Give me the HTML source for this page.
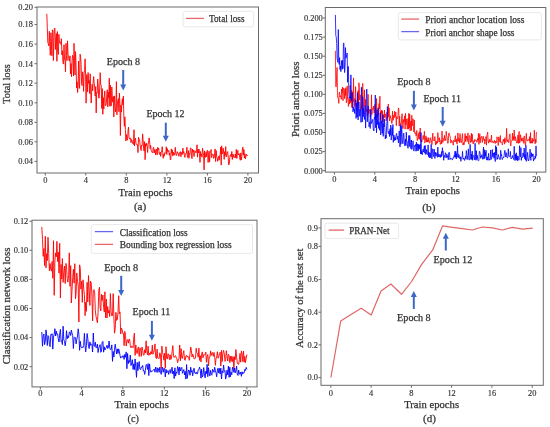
<!DOCTYPE html>
<html><head><meta charset="utf-8"><title>Training curves</title>
<style>
html,body{margin:0;padding:0;background:#fff;}
body{width:550px;height:427px;overflow:hidden;}
svg{display:block;}
svg text{font-family:"Liberation Serif", "DejaVu Serif", serif;fill:#333;stroke:#333;stroke-width:0.15px;}
svg text.b{stroke-width:0.25px;}
</style></head>
<body>
<svg width="550" height="427" viewBox="0 0 550 427">
<rect width="550" height="427" fill="#fff"/>
<rect x="37.0" y="7.0" width="221.5" height="166.0" fill="none" stroke="#6a6a6a" stroke-width="1.0"/>
<path d="M46.8 13.8L47.3 27.6L47.8 42.5L48.3 43.8L48.8 45.8L49.3 31.3L49.8 44.8L50.3 55.3L50.9 32.8L51.4 41.9L51.9 55.8L52.4 29.8L52.9 30.8L53.4 60.5L53.9 39.0L54.4 28.5L54.9 28.0L55.4 49.5L55.9 37.9L56.4 33.6L56.9 61.3L57.4 31.6L57.9 51.7L58.4 54.4L58.9 34.3L59.4 42.8L59.9 41.8L60.4 43.8L60.9 44.4L61.4 38.7L61.9 54.9L62.4 50.7L62.9 62.3L63.5 64.1L64.0 44.7L64.5 59.6L65.0 59.9L65.5 71.9L66.0 43.3L66.5 55.6L67.0 60.7L67.5 40.8L68.0 54.2L68.5 55.6L69.0 60.6L69.5 60.9L70.0 55.8L70.5 74.0L71.0 63.6L71.5 76.7L72.0 61.7L72.5 55.3L73.0 56.8L73.5 76.1L74.0 43.4L74.5 60.3L75.0 75.0L75.5 51.6L76.0 62.4L76.6 88.0L77.1 81.9L77.6 92.5L78.1 85.9L78.6 61.0L79.1 83.4L79.6 88.4L80.1 54.2L80.6 56.9L81.1 64.5L81.6 83.3L82.1 85.6L82.6 71.8L83.1 76.4L83.6 91.4L84.1 73.4L84.6 69.5L85.1 58.8L85.6 75.8L86.1 103.2L86.6 74.5L87.1 75.3L87.6 91.9L88.1 72.5L88.6 83.4L89.2 80.5L89.7 93.7L90.2 73.8L90.7 91.0L91.2 103.0L91.7 90.9L92.2 84.2L92.7 90.8L93.2 81.7L93.7 76.6L94.2 83.3L94.7 87.9L95.2 96.0L95.7 86.5L96.2 112.9L96.7 92.5L97.2 93.1L97.7 79.0L98.2 85.0L98.7 98.1L99.2 97.9L99.7 87.9L100.2 72.6L100.7 84.8L101.2 85.1L101.8 108.5L102.3 88.6L102.8 114.3L103.3 97.7L103.8 109.0L104.3 96.2L104.8 90.9L105.3 105.5L105.8 105.6L106.3 103.2L106.8 94.6L107.3 89.7L107.8 106.8L108.3 92.2L108.8 97.9L109.3 78.2L109.8 106.2L110.3 85.2L110.8 106.1L111.3 105.8L111.8 87.0L112.3 96.7L112.8 102.2L113.3 96.3L113.8 117.0L114.4 95.9L114.9 104.0L115.4 111.9L115.9 106.8L116.4 81.6L116.9 114.8L117.4 103.0L117.9 100.6L118.4 98.6L118.9 111.7L119.4 93.1L119.9 102.8L120.4 135.5L120.9 105.1L121.4 112.1L121.9 102.6L122.4 98.6L122.9 105.0L123.4 96.0L123.9 118.5L124.4 126.4L124.9 116.8L125.4 129.4L125.9 141.0L126.4 134.6L126.9 139.5L127.5 140.2L128.0 130.8L128.5 127.1L129.0 137.0L129.5 138.9L130.0 138.7L130.5 137.8L131.0 142.7L131.5 139.5L132.0 139.8L132.5 143.2L133.0 144.0L133.5 144.5L134.0 129.7L134.5 146.0L135.0 140.4L135.5 138.2L136.0 143.2L136.5 144.4L137.0 145.1L137.5 144.7L138.0 152.6L138.5 137.2L139.0 139.3L139.5 139.6L140.1 145.1L140.6 148.0L141.1 150.6L141.6 145.0L142.1 145.5L142.6 133.9L143.1 139.6L143.6 148.0L144.1 151.1L144.6 141.6L145.1 159.7L145.6 143.8L146.1 146.0L146.6 143.1L147.1 145.4L147.6 152.5L148.1 144.7L148.6 142.0L149.1 137.9L149.6 140.9L150.1 148.7L150.6 145.3L151.1 149.9L151.6 151.5L152.1 152.5L152.7 152.7L153.2 147.7L153.7 147.2L154.2 153.0L154.7 149.6L155.2 149.6L155.7 154.9L156.2 150.0L156.7 149.0L157.2 154.9L157.7 147.4L158.2 149.7L158.7 148.1L159.2 153.4L159.7 154.6L160.2 152.1L160.7 156.4L161.2 151.8L161.7 152.0L162.2 146.7L162.7 152.5L163.2 158.3L163.7 154.0L164.2 156.3L164.7 152.6L165.3 153.3L165.8 152.9L166.3 146.8L166.8 154.5L167.3 148.5L167.8 151.6L168.3 151.7L168.8 150.4L169.3 155.2L169.8 152.9L170.3 159.9L170.8 159.2L171.3 148.9L171.8 153.2L172.3 149.9L172.8 156.1L173.3 152.2L173.8 155.0L174.3 155.1L174.8 152.4L175.3 147.3L175.8 153.9L176.3 155.7L176.8 154.0L177.3 151.7L177.8 153.5L178.4 153.3L178.9 156.3L179.4 153.1L179.9 152.1L180.4 151.6L180.9 156.8L181.4 152.4L181.9 154.3L182.4 154.4L182.9 148.1L183.4 153.2L183.9 151.6L184.4 155.7L184.9 157.4L185.4 153.7L185.9 153.6L186.4 153.6L186.9 147.2L187.4 157.4L187.9 157.1L188.4 150.6L188.9 158.3L189.4 153.6L189.9 154.4L190.4 148.2L191.0 147.9L191.5 156.2L192.0 158.7L192.5 149.1L193.0 151.8L193.5 150.1L194.0 156.6L194.5 153.4L195.0 150.6L195.5 151.9L196.0 152.9L196.5 151.5L197.0 144.8L197.5 157.1L198.0 149.4L198.5 153.0L199.0 149.1L199.5 153.8L200.0 162.4L200.5 151.5L201.0 155.8L201.5 154.0L202.0 157.2L202.5 148.2L203.0 151.6L203.6 155.3L204.1 169.9L204.6 150.8L205.1 157.7L205.6 155.3L206.1 152.3L206.6 156.8L207.1 150.5L207.6 150.3L208.1 162.5L208.6 154.5L209.1 151.1L209.6 162.1L210.1 152.6L210.6 152.4L211.1 149.4L211.6 157.6L212.1 155.0L212.6 154.1L213.1 154.2L213.6 158.4L214.1 157.9L214.6 153.5L215.1 148.9L215.6 161.5L216.2 150.6L216.7 156.8L217.2 157.9L217.7 161.3L218.2 158.2L218.7 156.3L219.2 160.2L219.7 155.3L220.2 154.5L220.7 147.0L221.2 165.1L221.7 145.8L222.2 153.9L222.7 153.0L223.2 148.2L223.7 152.9L224.2 159.4L224.7 151.6L225.2 155.3L225.7 146.6L226.2 157.0L226.7 154.8L227.2 152.8L227.7 151.6L228.2 157.0L228.7 165.0L229.3 163.5L229.8 157.6L230.3 154.7L230.8 154.7L231.3 156.7L231.8 151.5L232.3 159.5L232.8 154.2L233.3 154.2L233.8 157.5L234.3 156.8L234.8 157.5L235.3 154.0L235.8 158.0L236.3 149.4L236.8 158.5L237.3 153.8L237.8 150.3L238.3 155.0L238.8 153.9L239.3 153.7L239.8 158.2L240.3 160.3L240.8 152.9L241.3 160.0L241.9 156.5L242.4 148.9L242.9 147.1L243.4 155.1L243.9 149.5L244.4 158.0L244.9 153.7L245.4 159.0L245.9 156.0L246.4 154.3L246.9 155.7L247.4 155.5L247.9 155.4" fill="none" stroke="#ff0000" stroke-width="0.90" stroke-linejoin="round" stroke-opacity="1.00"/>
<line x1="34.5" y1="161.4" x2="37.0" y2="161.4" stroke="#6a6a6a" stroke-width="1"/>
<text x="32.9" y="164.2" text-anchor="end" font-size="8.4">0.04</text>
<line x1="34.5" y1="141.8" x2="37.0" y2="141.8" stroke="#6a6a6a" stroke-width="1"/>
<text x="32.9" y="144.6" text-anchor="end" font-size="8.4">0.06</text>
<line x1="34.5" y1="122.3" x2="37.0" y2="122.3" stroke="#6a6a6a" stroke-width="1"/>
<text x="32.9" y="125.1" text-anchor="end" font-size="8.4">0.08</text>
<line x1="34.5" y1="102.8" x2="37.0" y2="102.8" stroke="#6a6a6a" stroke-width="1"/>
<text x="32.9" y="105.5" text-anchor="end" font-size="8.4">0.10</text>
<line x1="34.5" y1="83.2" x2="37.0" y2="83.2" stroke="#6a6a6a" stroke-width="1"/>
<text x="32.9" y="86.0" text-anchor="end" font-size="8.4">0.12</text>
<line x1="34.5" y1="63.7" x2="37.0" y2="63.7" stroke="#6a6a6a" stroke-width="1"/>
<text x="32.9" y="66.5" text-anchor="end" font-size="8.4">0.14</text>
<line x1="34.5" y1="44.1" x2="37.0" y2="44.1" stroke="#6a6a6a" stroke-width="1"/>
<text x="32.9" y="46.9" text-anchor="end" font-size="8.4">0.16</text>
<line x1="34.5" y1="24.6" x2="37.0" y2="24.6" stroke="#6a6a6a" stroke-width="1"/>
<text x="32.9" y="27.4" text-anchor="end" font-size="8.4">0.18</text>
<line x1="34.5" y1="7.3" x2="37.0" y2="7.3" stroke="#6a6a6a" stroke-width="1"/>
<text x="32.9" y="10.1" text-anchor="end" font-size="8.4">0.20</text>
<line x1="45.3" y1="173.0" x2="45.3" y2="175.5" stroke="#6a6a6a" stroke-width="1"/>
<text x="45.3" y="182.7" text-anchor="middle" font-size="8.4">0</text>
<line x1="85.8" y1="173.0" x2="85.8" y2="175.5" stroke="#6a6a6a" stroke-width="1"/>
<text x="85.8" y="182.7" text-anchor="middle" font-size="8.4">4</text>
<line x1="126.3" y1="173.0" x2="126.3" y2="175.5" stroke="#6a6a6a" stroke-width="1"/>
<text x="126.3" y="182.7" text-anchor="middle" font-size="8.4">8</text>
<line x1="166.9" y1="173.0" x2="166.9" y2="175.5" stroke="#6a6a6a" stroke-width="1"/>
<text x="166.9" y="182.7" text-anchor="middle" font-size="8.4">12</text>
<line x1="207.4" y1="173.0" x2="207.4" y2="175.5" stroke="#6a6a6a" stroke-width="1"/>
<text x="207.4" y="182.7" text-anchor="middle" font-size="8.4">16</text>
<line x1="247.9" y1="173.0" x2="247.9" y2="175.5" stroke="#6a6a6a" stroke-width="1"/>
<text x="247.9" y="182.7" text-anchor="middle" font-size="8.4">20</text>
<rect x="183.1" y="11.3" width="70.5" height="15.6" rx="2" fill="#fff" fill-opacity="0.8" stroke="#e2e2e2" stroke-width="0.8"/>
<line x1="186.0" y1="18.4" x2="204.0" y2="18.4" stroke="#e86868" stroke-width="1.3"/>
<text class="b" x="209.0" y="22.2" text-anchor="start" font-size="9.3" textLength="35.5" lengthAdjust="spacingAndGlyphs">Total loss</text>
<text class="b" x="106.8" y="64.5" text-anchor="start" font-size="10.0" textLength="33.2" lengthAdjust="spacingAndGlyphs">Epoch 8</text>
<line x1="123.2" y1="70.0" x2="123.2" y2="84.9" stroke="#3b68c6" stroke-width="2.0"/>
<polygon points="120.2,84.4 126.2,84.4 123.2,90.4" fill="#3b68c6"/>
<text class="b" x="146.5" y="116.5" text-anchor="start" font-size="10.0" textLength="38.0" lengthAdjust="spacingAndGlyphs">Epoch 12</text>
<line x1="165.8" y1="122.7" x2="165.8" y2="136.3" stroke="#3b68c6" stroke-width="2.0"/>
<polygon points="162.8,135.8 168.8,135.8 165.8,141.8" fill="#3b68c6"/>
<text class="b" transform="translate(9.7 84.0) rotate(-90)" x="0" y="0" text-anchor="middle" font-size="10.0" textLength="39.4" lengthAdjust="spacingAndGlyphs">Total loss</text>
<text class="b" x="145.6" y="195.5" text-anchor="middle" font-size="10.4" textLength="54.0" lengthAdjust="spacingAndGlyphs">Train epochs</text>
<text class="b" x="140.1" y="210.0" text-anchor="middle" font-size="11.0" textLength="12.4" lengthAdjust="spacingAndGlyphs">(a)</text>
<rect x="325.3" y="7.5" width="220.5" height="164.6" fill="none" stroke="#6a6a6a" stroke-width="1.0"/>
<path d="M335.4 50.8L335.8 86.7L336.2 86.8L336.7 74.2L337.1 67.5L337.5 95.4L337.9 98.3L338.3 98.6L338.8 103.4L339.2 92.9L339.6 92.0L340.0 97.0L340.4 95.9L340.9 96.0L341.3 99.3L341.7 89.0L342.1 93.0L342.5 87.0L343.0 100.7L343.4 87.9L343.8 88.5L344.2 90.3L344.6 98.7L345.1 88.8L345.5 95.5L345.9 87.6L346.3 102.6L346.7 102.7L347.2 85.9L347.6 98.5L348.0 97.6L348.4 106.4L348.8 104.0L349.3 98.7L349.7 103.9L350.1 85.4L350.5 102.6L350.9 91.8L351.4 90.5L351.8 107.5L352.2 91.5L352.6 108.0L353.0 100.3L353.5 77.9L353.9 101.9L354.3 98.5L354.7 106.5L355.1 105.2L355.6 86.6L356.0 99.8L356.4 102.2L356.8 109.7L357.2 107.5L357.6 110.4L358.1 90.5L358.5 105.8L358.9 82.8L359.3 87.4L359.7 100.1L360.2 94.8L360.6 109.8L361.0 107.3L361.4 108.3L361.8 103.7L362.3 102.1L362.7 83.4L363.1 98.5L363.5 110.6L363.9 114.3L364.4 89.8L364.8 106.3L365.2 104.4L365.6 99.4L366.0 111.5L366.5 111.4L366.9 108.7L367.3 115.9L367.7 109.5L368.1 94.3L368.6 113.5L369.0 112.8L369.4 111.3L369.8 109.3L370.2 117.0L370.7 116.4L371.1 113.8L371.5 94.8L371.9 114.5L372.3 108.5L372.8 108.8L373.2 109.3L373.6 106.0L374.0 113.1L374.4 112.5L374.9 104.3L375.3 119.6L375.7 108.4L376.1 119.0L376.5 98.5L377.0 113.5L377.4 116.9L377.8 113.5L378.2 115.6L378.6 111.5L379.0 103.5L379.5 108.9L379.9 96.2L380.3 119.5L380.7 111.5L381.1 114.1L381.6 110.0L382.0 120.0L382.4 110.7L382.8 120.0L383.2 122.4L383.7 114.5L384.1 118.1L384.5 110.0L384.9 117.4L385.3 114.0L385.8 115.1L386.2 120.8L386.6 117.3L387.0 112.0L387.4 118.4L387.9 118.0L388.3 104.0L388.7 116.5L389.1 107.9L389.5 120.9L390.0 118.6L390.4 115.6L390.8 118.0L391.2 118.8L391.6 123.3L392.1 123.4L392.5 111.2L392.9 120.4L393.3 120.2L393.7 115.4L394.2 117.9L394.6 111.2L395.0 116.0L395.4 116.6L395.8 112.1L396.3 125.7L396.7 116.6L397.1 118.9L397.5 118.1L397.9 117.2L398.4 107.9L398.8 109.2L399.2 126.1L399.6 116.3L400.0 123.2L400.4 123.1L400.9 124.7L401.3 125.3L401.7 116.1L402.1 113.7L402.5 123.2L403.0 128.6L403.4 119.5L403.8 122.4L404.2 121.6L404.6 115.8L405.1 129.1L405.5 113.4L405.9 124.9L406.3 119.0L406.7 120.8L407.2 129.2L407.6 127.1L408.0 118.3L408.4 129.1L408.8 113.2L409.3 128.1L409.7 114.1L410.1 130.9L410.5 125.5L410.9 120.9L411.4 130.5L411.8 115.3L412.2 126.0L412.6 124.4L413.0 118.8L413.5 128.0L413.9 132.0L414.3 119.9L414.7 132.6L415.1 133.7L415.6 132.5L416.0 136.1L416.4 135.6L416.8 130.4L417.2 140.7L417.7 139.9L418.1 136.0L418.5 133.6L418.9 138.8L419.3 131.8L419.8 139.5L420.2 128.0L420.6 141.2L421.0 142.0L421.4 140.0L421.8 141.9L422.3 139.0L422.7 138.3L423.1 135.4L423.5 136.9L423.9 139.7L424.4 131.2L424.8 143.1L425.2 141.9L425.6 137.5L426.0 135.8L426.5 142.1L426.9 137.5L427.3 142.0L427.7 140.2L428.1 142.1L428.6 137.7L429.0 141.2L429.4 142.4L429.8 143.3L430.2 138.8L430.7 137.6L431.1 141.2L431.5 140.9L431.9 144.6L432.3 141.2L432.8 133.1L433.2 140.5L433.6 140.7L434.0 140.2L434.4 140.7L434.9 136.6L435.3 141.8L435.7 145.1L436.1 140.9L436.5 143.7L437.0 141.7L437.4 143.2L437.8 132.6L438.2 137.1L438.6 138.9L439.1 142.0L439.5 137.7L439.9 141.5L440.3 144.4L440.7 144.1L441.2 140.1L441.6 143.9L442.0 131.1L442.4 139.2L442.8 142.5L443.2 141.3L443.7 138.0L444.1 138.6L444.5 135.4L444.9 141.0L445.3 138.9L445.8 140.0L446.2 131.4L446.6 135.7L447.0 136.4L447.4 140.9L447.9 143.4L448.3 141.7L448.7 133.6L449.1 132.9L449.5 135.1L450.0 136.2L450.4 138.4L450.8 143.1L451.2 142.0L451.6 140.3L452.1 141.8L452.5 141.7L452.9 143.6L453.3 145.2L453.7 140.1L454.2 140.8L454.6 141.6L455.0 137.7L455.4 135.7L455.8 142.0L456.3 138.9L456.7 142.9L457.1 144.2L457.5 140.0L457.9 132.9L458.4 141.3L458.8 138.2L459.2 138.3L459.6 142.7L460.0 133.5L460.5 140.6L460.9 142.1L461.3 142.8L461.7 140.0L462.1 137.1L462.5 133.6L463.0 145.0L463.4 142.6L463.8 144.7L464.2 144.6L464.6 140.7L465.1 133.5L465.5 141.6L465.9 135.8L466.3 138.4L466.7 136.0L467.2 141.6L467.6 136.6L468.0 132.9L468.4 140.1L468.8 144.2L469.3 136.8L469.7 135.5L470.1 137.5L470.5 142.7L470.9 142.2L471.4 133.3L471.8 141.9L472.2 134.2L472.6 139.7L473.0 144.0L473.5 143.4L473.9 140.7L474.3 142.3L474.7 139.3L475.1 140.4L475.6 140.6L476.0 140.7L476.4 140.2L476.8 142.4L477.2 141.6L477.7 138.4L478.1 140.6L478.5 133.3L478.9 144.4L479.3 139.8L479.8 133.7L480.2 142.9L480.6 137.6L481.0 138.2L481.4 137.1L481.9 136.1L482.3 142.5L482.7 139.2L483.1 136.8L483.5 136.5L483.9 140.5L484.4 139.0L484.8 144.1L485.2 141.5L485.6 141.0L486.0 136.6L486.5 145.2L486.9 135.2L487.3 134.3L487.7 132.2L488.1 140.4L488.6 143.2L489.0 140.6L489.4 141.5L489.8 138.9L490.2 142.2L490.7 140.4L491.1 139.7L491.5 135.0L491.9 142.6L492.3 141.6L492.8 141.0L493.2 142.5L493.6 143.1L494.0 142.4L494.4 140.1L494.9 142.5L495.3 143.5L495.7 141.1L496.1 142.7L496.5 142.5L497.0 136.8L497.4 138.4L497.8 139.1L498.2 145.5L498.6 136.9L499.1 137.8L499.5 138.6L499.9 142.0L500.3 135.5L500.7 142.6L501.2 141.9L501.6 142.5L502.0 143.3L502.4 144.9L502.8 141.9L503.3 139.5L503.7 141.5L504.1 139.1L504.5 144.2L504.9 137.7L505.3 140.5L505.8 142.6L506.2 140.0L506.6 128.3L507.0 138.9L507.4 141.6L507.9 139.6L508.3 142.5L508.7 142.6L509.1 139.2L509.5 134.3L510.0 133.8L510.4 144.1L510.8 145.9L511.2 141.6L511.6 141.4L512.1 139.6L512.5 133.1L512.9 140.6L513.3 136.5L513.7 139.6L514.2 130.0L514.6 138.1L515.0 140.7L515.4 136.6L515.8 138.9L516.3 141.1L516.7 143.0L517.1 143.1L517.5 142.2L517.9 135.2L518.4 143.4L518.8 133.1L519.2 131.4L519.6 143.1L520.0 141.8L520.5 134.7L520.9 137.8L521.3 141.2L521.7 138.1L522.1 141.0L522.6 141.1L523.0 137.7L523.4 140.2L523.8 143.4L524.2 135.9L524.7 137.4L525.1 144.4L525.5 145.4L525.9 140.4L526.3 133.3L526.7 139.4L527.2 141.1L527.6 140.9L528.0 139.6L528.4 139.1L528.8 139.2L529.3 140.9L529.7 136.6L530.1 143.2L530.5 132.6L530.9 143.3L531.4 141.0L531.8 142.9L532.2 138.1L532.6 143.2L533.0 139.5L533.5 140.5L533.9 141.3L534.3 130.1L534.7 137.1L535.1 143.9L535.6 139.3L536.0 142.7L536.4 132.0" fill="none" stroke="#ff0000" stroke-width="0.80" stroke-linejoin="round" stroke-opacity="1.00"/>
<path d="M335.4 14.9L335.8 35.6L336.2 36.7L336.7 43.3L337.1 58.6L337.5 60.8L337.9 62.4L338.3 29.5L338.8 61.7L339.2 64.4L339.6 57.6L340.0 69.6L340.4 66.0L340.9 71.7L341.3 64.1L341.7 60.5L342.1 69.3L342.5 60.4L343.0 68.6L343.4 44.3L343.8 42.9L344.2 53.7L344.6 72.6L345.1 66.5L345.5 47.6L345.9 58.2L346.3 57.4L346.7 55.2L347.2 53.0L347.6 82.3L348.0 66.3L348.4 66.6L348.8 92.5L349.3 98.1L349.7 97.4L350.1 96.7L350.5 98.7L350.9 74.8L351.4 101.2L351.8 96.2L352.2 92.7L352.6 94.5L353.0 111.9L353.5 107.1L353.9 110.2L354.3 109.2L354.7 113.5L355.1 104.7L355.6 99.7L356.0 118.4L356.4 116.0L356.8 103.0L357.2 117.1L357.6 92.6L358.1 119.9L358.5 108.2L358.9 102.0L359.3 108.5L359.7 116.3L360.2 109.3L360.6 112.1L361.0 122.4L361.4 87.2L361.8 103.8L362.3 121.9L362.7 96.7L363.1 116.9L363.5 108.5L363.9 113.4L364.4 119.5L364.8 110.8L365.2 105.6L365.6 128.1L366.0 112.3L366.5 89.8L366.9 89.0L367.3 121.9L367.7 115.8L368.1 106.0L368.6 107.2L369.0 126.7L369.4 124.8L369.8 121.9L370.2 128.5L370.7 109.3L371.1 119.2L371.5 123.6L371.9 122.1L372.3 120.9L372.8 119.3L373.2 127.9L373.6 131.0L374.0 130.5L374.4 117.1L374.9 119.1L375.3 95.0L375.7 127.9L376.1 114.4L376.5 132.8L377.0 109.7L377.4 124.6L377.8 118.3L378.2 107.7L378.6 128.3L379.0 121.9L379.5 130.2L379.9 123.0L380.3 112.9L380.7 134.9L381.1 130.8L381.6 120.4L382.0 125.3L382.4 133.3L382.8 114.8L383.2 136.4L383.7 123.5L384.1 127.0L384.5 119.2L384.9 127.8L385.3 138.9L385.8 135.1L386.2 138.2L386.6 126.9L387.0 121.7L387.4 106.7L387.9 130.4L388.3 133.6L388.7 133.6L389.1 130.9L389.5 136.5L390.0 128.8L390.4 135.2L390.8 125.0L391.2 140.0L391.6 137.5L392.1 127.6L392.5 135.4L392.9 124.5L393.3 142.4L393.7 135.0L394.2 135.5L394.6 140.6L395.0 137.4L395.4 140.1L395.8 136.6L396.3 133.8L396.7 133.3L397.1 139.5L397.5 138.0L397.9 136.1L398.4 142.9L398.8 137.9L399.2 130.9L399.6 134.7L400.0 147.0L400.4 124.6L400.9 144.3L401.3 136.3L401.7 125.7L402.1 136.0L402.5 143.3L403.0 143.8L403.4 134.2L403.8 133.1L404.2 139.6L404.6 145.6L405.1 145.3L405.5 139.0L405.9 145.7L406.3 132.2L406.7 141.9L407.2 141.6L407.6 146.4L408.0 148.3L408.4 143.2L408.8 135.5L409.3 146.6L409.7 135.5L410.1 139.1L410.5 146.5L410.9 148.6L411.4 140.0L411.8 149.5L412.2 147.1L412.6 146.0L413.0 140.8L413.5 147.4L413.9 151.1L414.3 148.1L414.7 145.5L415.1 146.2L415.6 144.4L416.0 151.3L416.4 142.1L416.8 150.6L417.2 148.9L417.7 143.8L418.1 151.0L418.5 144.4L418.9 149.5L419.3 145.0L419.8 148.7L420.2 144.2L420.6 153.9L421.0 132.5L421.4 154.1L421.8 150.8L422.3 154.7L422.7 152.8L423.1 149.2L423.5 152.0L423.9 148.6L424.4 145.9L424.8 153.3L425.2 145.4L425.6 154.4L426.0 153.8L426.5 149.5L426.9 154.0L427.3 154.9L427.7 154.5L428.1 144.9L428.6 156.7L429.0 152.0L429.4 157.8L429.8 155.0L430.2 153.0L430.7 157.7L431.1 144.4L431.5 147.6L431.9 158.9L432.3 148.8L432.8 149.9L433.2 154.5L433.6 156.5L434.0 149.0L434.4 149.9L434.9 158.5L435.3 152.1L435.7 154.8L436.1 156.1L436.5 153.4L437.0 152.7L437.4 157.3L437.8 147.1L438.2 153.9L438.6 156.9L439.1 154.1L439.5 156.8L439.9 156.1L440.3 157.4L440.7 154.5L441.2 157.1L441.6 151.6L442.0 155.6L442.4 147.7L442.8 152.3L443.2 151.4L443.7 160.3L444.1 155.7L444.5 155.6L444.9 157.4L445.3 152.7L445.8 153.1L446.2 157.8L446.6 156.1L447.0 154.2L447.4 157.3L447.9 156.1L448.3 159.8L448.7 152.9L449.1 152.2L449.5 152.7L450.0 159.6L450.4 158.4L450.8 159.0L451.2 158.4L451.6 159.0L452.1 159.8L452.5 159.9L452.9 158.1L453.3 157.5L453.7 158.2L454.2 155.2L454.6 156.7L455.0 151.2L455.4 157.3L455.8 151.3L456.3 159.0L456.7 153.6L457.1 157.3L457.5 145.6L457.9 153.6L458.4 157.7L458.8 154.4L459.2 155.5L459.6 157.9L460.0 158.9L460.5 156.7L460.9 161.3L461.3 157.6L461.7 157.7L462.1 157.3L462.5 151.4L463.0 159.2L463.4 158.2L463.8 159.2L464.2 158.5L464.6 160.5L465.1 158.8L465.5 156.0L465.9 158.7L466.3 150.5L466.7 153.2L467.2 159.6L467.6 155.9L468.0 155.3L468.4 148.9L468.8 159.3L469.3 160.0L469.7 160.0L470.1 144.4L470.5 151.2L470.9 159.3L471.4 154.1L471.8 159.6L472.2 151.1L472.6 160.3L473.0 156.7L473.5 155.5L473.9 155.4L474.3 158.2L474.7 159.9L475.1 143.3L475.6 158.0L476.0 160.3L476.4 150.7L476.8 159.3L477.2 155.2L477.7 159.5L478.1 160.6L478.5 160.8L478.9 160.4L479.3 151.4L479.8 151.4L480.2 153.9L480.6 158.3L481.0 156.4L481.4 157.1L481.9 154.7L482.3 158.1L482.7 159.3L483.1 152.6L483.5 147.0L483.9 159.1L484.4 149.7L484.8 158.3L485.2 152.3L485.6 156.1L486.0 150.2L486.5 160.0L486.9 160.0L487.3 156.9L487.7 160.2L488.1 158.7L488.6 153.3L489.0 160.3L489.4 159.0L489.8 160.1L490.2 159.7L490.7 150.0L491.1 159.4L491.5 159.1L491.9 157.0L492.3 149.5L492.8 156.8L493.2 154.1L493.6 153.0L494.0 158.3L494.4 152.3L494.9 158.7L495.3 161.5L495.7 145.6L496.1 155.3L496.5 147.3L497.0 159.5L497.4 157.7L497.8 158.8L498.2 154.5L498.6 156.0L499.1 157.2L499.5 158.8L499.9 159.8L500.3 159.4L500.7 150.3L501.2 155.6L501.6 154.4L502.0 159.3L502.4 159.6L502.8 158.1L503.3 157.4L503.7 157.9L504.1 155.7L504.5 152.0L504.9 150.3L505.3 154.1L505.8 157.0L506.2 152.6L506.6 153.9L507.0 157.6L507.4 157.9L507.9 156.7L508.3 148.8L508.7 155.5L509.1 156.4L509.5 156.7L510.0 156.5L510.4 151.4L510.8 157.7L511.2 159.0L511.6 158.2L512.1 157.2L512.5 155.5L512.9 158.0L513.3 158.4L513.7 159.5L514.2 146.3L514.6 154.6L515.0 160.6L515.4 154.0L515.8 159.5L516.3 152.8L516.7 160.2L517.1 155.8L517.5 160.7L517.9 155.9L518.4 159.1L518.8 160.3L519.2 159.4L519.6 145.7L520.0 155.1L520.5 156.8L520.9 147.7L521.3 160.4L521.7 157.1L522.1 157.7L522.6 157.4L523.0 152.9L523.4 155.1L523.8 156.7L524.2 148.0L524.7 158.7L525.1 154.8L525.5 160.1L525.9 145.3L526.3 161.4L526.7 160.1L527.2 156.2L527.6 152.4L528.0 158.1L528.4 161.0L528.8 160.2L529.3 157.5L529.7 154.9L530.1 149.1L530.5 158.6L530.9 160.4L531.4 152.7L531.8 156.7L532.2 154.1L532.6 156.3L533.0 153.8L533.5 161.1L533.9 158.6L534.3 158.4L534.7 159.4L535.1 155.9L535.6 158.3L536.0 145.9L536.4 156.2" fill="none" stroke="#0000ff" stroke-width="0.80" stroke-linejoin="round" stroke-opacity="1.00"/>
<line x1="322.8" y1="170.7" x2="325.3" y2="170.7" stroke="#6a6a6a" stroke-width="1"/>
<text x="322.8" y="173.5" text-anchor="end" font-size="8.4">0.000</text>
<line x1="322.8" y1="151.6" x2="325.3" y2="151.6" stroke="#6a6a6a" stroke-width="1"/>
<text x="322.8" y="154.4" text-anchor="end" font-size="8.4">0.025</text>
<line x1="322.8" y1="132.5" x2="325.3" y2="132.5" stroke="#6a6a6a" stroke-width="1"/>
<text x="322.8" y="135.3" text-anchor="end" font-size="8.4">0.050</text>
<line x1="322.8" y1="113.4" x2="325.3" y2="113.4" stroke="#6a6a6a" stroke-width="1"/>
<text x="322.8" y="116.2" text-anchor="end" font-size="8.4">0.075</text>
<line x1="322.8" y1="94.3" x2="325.3" y2="94.3" stroke="#6a6a6a" stroke-width="1"/>
<text x="322.8" y="97.1" text-anchor="end" font-size="8.4">0.100</text>
<line x1="322.8" y1="75.3" x2="325.3" y2="75.3" stroke="#6a6a6a" stroke-width="1"/>
<text x="322.8" y="78.0" text-anchor="end" font-size="8.4">0.125</text>
<line x1="322.8" y1="56.2" x2="325.3" y2="56.2" stroke="#6a6a6a" stroke-width="1"/>
<text x="322.8" y="58.9" text-anchor="end" font-size="8.4">0.150</text>
<line x1="322.8" y1="37.1" x2="325.3" y2="37.1" stroke="#6a6a6a" stroke-width="1"/>
<text x="322.8" y="39.9" text-anchor="end" font-size="8.4">0.175</text>
<line x1="322.8" y1="18.0" x2="325.3" y2="18.0" stroke="#6a6a6a" stroke-width="1"/>
<text x="322.8" y="20.8" text-anchor="end" font-size="8.4">0.200</text>
<line x1="334.4" y1="172.1" x2="334.4" y2="174.6" stroke="#6a6a6a" stroke-width="1"/>
<text x="334.4" y="181.7" text-anchor="middle" font-size="8.4">0</text>
<line x1="374.8" y1="172.1" x2="374.8" y2="174.6" stroke="#6a6a6a" stroke-width="1"/>
<text x="374.8" y="181.7" text-anchor="middle" font-size="8.4">4</text>
<line x1="415.2" y1="172.1" x2="415.2" y2="174.6" stroke="#6a6a6a" stroke-width="1"/>
<text x="415.2" y="181.7" text-anchor="middle" font-size="8.4">8</text>
<line x1="455.6" y1="172.1" x2="455.6" y2="174.6" stroke="#6a6a6a" stroke-width="1"/>
<text x="455.6" y="181.7" text-anchor="middle" font-size="8.4">12</text>
<line x1="496.0" y1="172.1" x2="496.0" y2="174.6" stroke="#6a6a6a" stroke-width="1"/>
<text x="496.0" y="181.7" text-anchor="middle" font-size="8.4">16</text>
<line x1="536.4" y1="172.1" x2="536.4" y2="174.6" stroke="#6a6a6a" stroke-width="1"/>
<text x="536.4" y="181.7" text-anchor="middle" font-size="8.4">20</text>
<rect x="398.4" y="12.6" width="143.0" height="27.3" rx="2" fill="#fff" fill-opacity="0.8" stroke="#e2e2e2" stroke-width="0.8"/>
<line x1="401.3" y1="19.1" x2="419.1" y2="19.1" stroke="#e86868" stroke-width="1.3"/>
<line x1="401.3" y1="31.6" x2="419.1" y2="31.6" stroke="#6868e8" stroke-width="1.3"/>
<text class="b" x="425.3" y="23.3" text-anchor="start" font-size="9.3" textLength="99.0" lengthAdjust="spacingAndGlyphs">Priori anchor location loss</text>
<text class="b" x="425.3" y="35.8" text-anchor="start" font-size="9.3">Priori anchor shape loss</text>
<text class="b" x="397.2" y="84.7" text-anchor="start" font-size="10.0" textLength="33.4" lengthAdjust="spacingAndGlyphs">Epoch 8</text>
<line x1="413.9" y1="90.8" x2="413.9" y2="105.0" stroke="#3b68c6" stroke-width="2.0"/>
<polygon points="410.9,104.5 416.9,104.5 413.9,110.5" fill="#3b68c6"/>
<text class="b" x="423.4" y="101.5" text-anchor="start" font-size="10.0" textLength="37.5" lengthAdjust="spacingAndGlyphs">Epoch 11</text>
<line x1="442.7" y1="107.0" x2="442.7" y2="121.3" stroke="#3b68c6" stroke-width="2.0"/>
<polygon points="439.7,120.8 445.7,120.8 442.7,126.8" fill="#3b68c6"/>
<text class="b" transform="translate(299.1 99.3) rotate(-90)" x="0" y="0" text-anchor="middle" font-size="10.4" textLength="75.4" lengthAdjust="spacingAndGlyphs">Priori anchor loss</text>
<text class="b" x="432.7" y="194.2" text-anchor="middle" font-size="10.4" textLength="54.5" lengthAdjust="spacingAndGlyphs">Train epochs</text>
<text class="b" x="428.9" y="210.8" text-anchor="middle" font-size="11.0" textLength="13.1" lengthAdjust="spacingAndGlyphs">(b)</text>
<rect x="32.0" y="220.2" width="225.0" height="166.7" fill="none" stroke="#6a6a6a" stroke-width="1.0"/>
<path d="M41.8 227.0L42.5 239.2L43.2 256.4L43.9 248.5L44.6 265.6L45.3 236.3L46.0 267.8L46.7 253.7L47.3 260.6L48.0 237.3L48.7 253.6L49.4 270.8L50.1 263.5L50.8 269.6L51.5 271.2L52.1 261.4L52.8 278.3L53.5 240.7L54.2 295.3L54.9 260.9L55.6 252.9L56.3 256.8L56.9 241.3L57.6 261.6L58.3 252.1L59.0 273.1L59.7 243.3L60.4 297.9L61.1 264.5L61.7 279.0L62.4 258.6L63.1 282.4L63.8 271.9L64.5 266.0L65.2 283.5L65.9 263.4L66.5 266.2L67.2 278.5L67.9 282.1L68.6 275.6L69.3 252.8L70.0 286.3L70.7 265.6L71.3 303.0L72.0 290.4L72.7 277.8L73.4 269.3L74.1 283.1L74.8 263.7L75.5 298.8L76.1 293.2L76.8 273.1L77.5 281.3L78.2 285.0L78.9 322.0L79.6 264.8L80.3 268.6L80.9 289.1L81.6 281.3L82.3 302.4L83.0 279.8L83.7 288.1L84.4 294.5L85.1 315.6L85.7 302.2L86.4 311.3L87.1 282.3L87.8 302.0L88.5 275.5L89.2 290.2L89.9 305.4L90.5 281.1L91.2 282.6L91.9 295.0L92.6 321.0L93.3 290.6L94.0 289.5L94.7 293.1L95.3 310.2L96.0 316.3L96.7 319.7L97.4 322.8L98.1 312.3L98.8 290.2L99.5 287.1L100.1 307.1L100.8 310.9L101.5 294.4L102.2 300.6L102.9 295.0L103.6 307.2L104.3 312.0L104.9 291.8L105.6 317.8L106.3 299.0L107.0 318.0L107.7 306.6L108.4 313.1L109.1 310.4L109.7 316.6L110.4 293.6L111.1 311.9L111.8 315.9L112.5 315.5L113.2 293.6L113.9 317.9L114.5 333.2L115.2 328.5L115.9 312.3L116.6 320.5L117.3 319.8L118.0 312.4L118.7 295.7L119.3 313.7L120.0 311.9L120.7 334.0L121.4 328.0L122.1 329.5L122.8 333.5L123.5 333.3L124.1 345.7L124.8 331.3L125.5 335.3L126.2 346.0L126.9 340.4L127.6 339.5L128.3 343.2L128.9 339.4L129.6 339.2L130.3 345.7L131.0 347.8L131.7 346.1L132.4 346.7L133.1 347.8L133.7 338.0L134.4 333.1L135.1 355.4L135.8 345.0L136.5 352.3L137.2 353.7L137.9 347.7L138.5 347.1L139.2 356.5L139.9 347.8L140.6 348.6L141.3 356.4L142.0 347.0L142.7 350.6L143.3 354.9L144.0 355.2L144.7 349.7L145.4 353.1L146.1 340.8L146.8 351.2L147.5 354.9L148.1 346.2L148.8 355.4L149.5 353.3L150.2 354.7L150.9 351.6L151.6 353.9L152.3 345.1L152.9 354.3L153.6 352.6L154.3 349.8L155.0 343.9L155.7 356.9L156.4 358.6L157.1 349.1L157.7 358.0L158.4 358.4L159.1 358.6L159.8 352.8L160.5 354.9L161.2 368.6L161.9 346.1L162.5 352.3L163.2 354.6L163.9 360.2L164.6 353.0L165.3 368.2L166.0 346.7L166.7 358.0L167.3 359.1L168.0 353.7L168.7 354.9L169.4 359.6L170.1 354.7L170.8 359.5L171.5 358.1L172.1 351.4L172.8 345.6L173.5 355.9L174.2 357.5L174.9 356.2L175.6 355.7L176.3 358.2L176.9 358.5L177.6 362.7L178.3 359.9L179.0 358.4L179.7 345.0L180.4 360.8L181.1 348.6L181.8 358.1L182.4 358.4L183.1 353.9L183.8 350.6L184.5 359.8L185.2 360.3L185.9 355.8L186.6 355.4L187.2 357.3L187.9 356.1L188.6 357.4L189.3 360.3L190.0 353.7L190.7 347.0L191.4 350.4L192.0 357.0L192.7 354.1L193.4 355.7L194.1 359.0L194.8 358.6L195.5 358.2L196.2 348.2L196.8 352.6L197.5 353.3L198.2 357.2L198.9 348.2L199.6 360.4L200.3 355.7L201.0 361.9L201.6 354.2L202.3 351.9L203.0 357.9L203.7 354.7L204.4 354.9L205.1 354.8L205.8 352.1L206.4 362.3L207.1 356.7L207.8 354.5L208.5 366.0L209.2 357.1L209.9 357.1L210.6 350.9L211.2 355.5L211.9 353.0L212.6 352.5L213.3 356.3L214.0 352.4L214.7 356.9L215.4 365.3L216.0 358.7L216.7 357.0L217.4 351.7L218.1 358.3L218.8 356.2L219.5 353.4L220.2 352.2L220.8 366.1L221.5 350.3L222.2 361.5L222.9 353.2L223.6 350.3L224.3 354.0L225.0 361.4L225.6 359.8L226.3 350.7L227.0 355.8L227.7 361.0L228.4 354.2L229.1 355.6L229.8 362.6L230.4 356.3L231.1 361.4L231.8 356.1L232.5 361.6L233.2 356.8L233.9 369.3L234.6 356.7L235.2 359.6L235.9 349.5L236.6 357.1L237.3 363.1L238.0 364.1L238.7 364.3L239.4 359.5L240.0 353.4L240.7 362.2L241.4 350.9L242.1 353.9L242.8 361.6L243.5 351.1L244.2 362.3L244.8 356.2L245.5 362.5L246.2 358.2L246.9 354.5" fill="none" stroke="#ff0000" stroke-width="0.90" stroke-linejoin="round" stroke-opacity="1.00"/>
<path d="M41.8 332.0L42.5 346.2L43.2 335.7L43.9 334.0L44.6 344.7L45.3 341.2L46.0 329.9L46.7 336.1L47.3 345.5L48.0 335.6L48.7 336.6L49.4 344.3L50.1 346.7L50.8 334.4L51.5 335.0L52.1 333.7L52.8 349.1L53.5 337.1L54.2 334.2L54.9 328.7L55.6 336.0L56.3 331.1L56.9 334.3L57.6 333.9L58.3 338.8L59.0 342.0L59.7 334.1L60.4 329.4L61.1 341.4L61.7 340.7L62.4 344.6L63.1 326.2L63.8 339.9L64.5 341.2L65.2 345.9L65.9 340.6L66.5 330.7L67.2 338.8L67.9 335.7L68.6 337.6L69.3 332.1L70.0 332.4L70.7 335.5L71.3 330.1L72.0 333.1L72.7 335.4L73.4 348.5L74.1 337.3L74.8 337.3L75.5 337.7L76.1 343.9L76.8 339.4L77.5 336.0L78.2 328.8L78.9 334.3L79.6 350.3L80.3 341.3L80.9 346.1L81.6 347.8L82.3 347.2L83.0 347.7L83.7 345.5L84.4 333.4L85.1 345.9L85.7 351.9L86.4 345.1L87.1 333.5L87.8 338.6L88.5 346.6L89.2 348.6L89.9 341.8L90.5 345.3L91.2 343.8L91.9 344.6L92.6 352.0L93.3 333.0L94.0 345.9L94.7 346.3L95.3 342.2L96.0 347.8L96.7 347.5L97.4 344.1L98.1 352.5L98.8 347.9L99.5 346.0L100.1 344.6L100.8 352.3L101.5 351.0L102.2 342.1L102.9 341.4L103.6 352.2L104.3 346.8L104.9 350.0L105.6 348.7L106.3 347.4L107.0 345.2L107.7 348.5L108.4 347.7L109.1 341.0L109.7 347.7L110.4 349.6L111.1 349.3L111.8 344.9L112.5 361.3L113.2 351.4L113.9 356.9L114.5 349.7L115.2 344.2L115.9 348.8L116.6 354.0L117.3 348.9L118.0 353.4L118.7 348.9L119.3 351.1L120.0 355.4L120.7 358.1L121.4 356.7L122.1 357.4L122.8 355.5L123.5 356.0L124.1 359.4L124.8 354.3L125.5 357.2L126.2 351.9L126.9 368.7L127.6 353.5L128.3 363.7L128.9 360.6L129.6 362.2L130.3 355.1L131.0 365.6L131.7 362.6L132.4 359.7L133.1 369.4L133.7 363.9L134.4 369.7L135.1 358.9L135.8 367.7L136.5 377.3L137.2 362.4L137.9 370.6L138.5 364.6L139.2 361.5L139.9 369.1L140.6 369.6L141.3 367.1L142.0 367.3L142.7 365.4L143.3 370.9L144.0 370.4L144.7 374.4L145.4 370.3L146.1 364.5L146.8 365.0L147.5 369.4L148.1 363.6L148.8 375.6L149.5 363.9L150.2 369.6L150.9 372.2L151.6 371.0L152.3 371.3L152.9 370.4L153.6 369.5L154.3 369.1L155.0 372.2L155.7 367.0L156.4 369.4L157.1 372.5L157.7 367.8L158.4 369.1L159.1 372.3L159.8 367.2L160.5 371.6L161.2 374.4L161.9 368.7L162.5 367.1L163.2 372.3L163.9 368.2L164.6 368.8L165.3 376.9L166.0 369.3L166.7 373.0L167.3 371.2L168.0 370.5L168.7 374.4L169.4 370.4L170.1 369.5L170.8 373.3L171.5 369.3L172.1 367.2L172.8 374.0L173.5 371.0L174.2 378.6L174.9 367.8L175.6 376.1L176.3 372.2L176.9 373.2L177.6 366.5L178.3 367.6L179.0 374.9L179.7 367.0L180.4 371.0L181.1 368.8L181.8 367.4L182.4 373.3L183.1 371.5L183.8 369.6L184.5 375.0L185.2 371.3L185.9 379.1L186.6 364.6L187.2 378.4L187.9 373.9L188.6 369.9L189.3 370.9L190.0 375.3L190.7 367.2L191.4 372.2L192.0 370.6L192.7 375.8L193.4 369.9L194.1 368.2L194.8 373.2L195.5 373.5L196.2 372.1L196.8 373.9L197.5 373.8L198.2 369.9L198.9 369.5L199.6 367.1L200.3 370.2L201.0 378.2L201.6 369.4L202.3 377.1L203.0 375.6L203.7 367.6L204.4 373.6L205.1 377.9L205.8 371.2L206.4 373.8L207.1 364.3L207.8 376.7L208.5 367.7L209.2 373.2L209.9 375.9L210.6 370.4L211.2 374.2L211.9 375.2L212.6 369.3L213.3 370.6L214.0 372.4L214.7 367.3L215.4 370.9L216.0 372.7L216.7 376.8L217.4 370.0L218.1 368.1L218.8 373.1L219.5 368.5L220.2 374.0L220.8 368.1L221.5 379.0L222.2 370.9L222.9 372.8L223.6 365.1L224.3 371.5L225.0 370.8L225.6 379.1L226.3 376.0L227.0 370.1L227.7 374.8L228.4 366.1L229.1 377.4L229.8 367.2L230.4 376.9L231.1 372.3L231.8 374.7L232.5 367.2L233.2 369.2L233.9 372.3L234.6 368.0L235.2 372.9L235.9 370.6L236.6 366.2L237.3 374.5L238.0 375.5L238.7 370.1L239.4 374.0L240.0 374.3L240.7 372.0L241.4 376.3L242.1 371.8L242.8 374.1L243.5 372.6L244.2 372.7L244.8 369.4L245.5 370.5L246.2 367.4L246.9 369.3" fill="none" stroke="#0000ff" stroke-width="0.90" stroke-linejoin="round" stroke-opacity="1.00"/>
<line x1="29.5" y1="366.7" x2="32.0" y2="366.7" stroke="#6a6a6a" stroke-width="1"/>
<text x="28.3" y="369.5" text-anchor="end" font-size="8.4">0.02</text>
<line x1="29.5" y1="337.6" x2="32.0" y2="337.6" stroke="#6a6a6a" stroke-width="1"/>
<text x="28.3" y="340.4" text-anchor="end" font-size="8.4">0.04</text>
<line x1="29.5" y1="308.5" x2="32.0" y2="308.5" stroke="#6a6a6a" stroke-width="1"/>
<text x="28.3" y="311.3" text-anchor="end" font-size="8.4">0.06</text>
<line x1="29.5" y1="279.4" x2="32.0" y2="279.4" stroke="#6a6a6a" stroke-width="1"/>
<text x="28.3" y="282.2" text-anchor="end" font-size="8.4">0.08</text>
<line x1="29.5" y1="250.3" x2="32.0" y2="250.3" stroke="#6a6a6a" stroke-width="1"/>
<text x="28.3" y="253.1" text-anchor="end" font-size="8.4">0.10</text>
<line x1="29.5" y1="221.2" x2="32.0" y2="221.2" stroke="#6a6a6a" stroke-width="1"/>
<text x="28.3" y="224.0" text-anchor="end" font-size="8.4">0.12</text>
<line x1="40.3" y1="386.9" x2="40.3" y2="389.4" stroke="#6a6a6a" stroke-width="1"/>
<text x="40.3" y="396.4" text-anchor="middle" font-size="8.4">0</text>
<line x1="81.6" y1="386.9" x2="81.6" y2="389.4" stroke="#6a6a6a" stroke-width="1"/>
<text x="81.6" y="396.4" text-anchor="middle" font-size="8.4">4</text>
<line x1="122.9" y1="386.9" x2="122.9" y2="389.4" stroke="#6a6a6a" stroke-width="1"/>
<text x="122.9" y="396.4" text-anchor="middle" font-size="8.4">8</text>
<line x1="164.3" y1="386.9" x2="164.3" y2="389.4" stroke="#6a6a6a" stroke-width="1"/>
<text x="164.3" y="396.4" text-anchor="middle" font-size="8.4">12</text>
<line x1="205.6" y1="386.9" x2="205.6" y2="389.4" stroke="#6a6a6a" stroke-width="1"/>
<text x="205.6" y="396.4" text-anchor="middle" font-size="8.4">16</text>
<line x1="246.9" y1="386.9" x2="246.9" y2="389.4" stroke="#6a6a6a" stroke-width="1"/>
<text x="246.9" y="396.4" text-anchor="middle" font-size="8.4">20</text>
<rect x="91.3" y="224.6" width="161.2" height="28.8" rx="2" fill="#fff" fill-opacity="0.8" stroke="#e2e2e2" stroke-width="0.8"/>
<line x1="94.8" y1="231.6" x2="113.1" y2="231.6" stroke="#6868e8" stroke-width="1.3"/>
<line x1="94.8" y1="244.4" x2="113.1" y2="244.4" stroke="#e86868" stroke-width="1.3"/>
<text class="b" x="119.7" y="235.8" text-anchor="start" font-size="9.3">Classification loss</text>
<text class="b" x="119.7" y="248.0" text-anchor="start" font-size="9.3" textLength="112.0" lengthAdjust="spacingAndGlyphs">Bounding box regression loss</text>
<text class="b" x="104.2" y="270.6" text-anchor="start" font-size="10.0" textLength="34.0" lengthAdjust="spacingAndGlyphs">Epoch 8</text>
<line x1="121.2" y1="275.8" x2="121.2" y2="290.4" stroke="#3b68c6" stroke-width="2.0"/>
<polygon points="118.2,289.9 124.2,289.9 121.2,295.9" fill="#3b68c6"/>
<text class="b" x="132.5" y="315.2" text-anchor="start" font-size="10.0" textLength="37.9" lengthAdjust="spacingAndGlyphs">Epoch 11</text>
<line x1="151.9" y1="320.9" x2="151.9" y2="335.2" stroke="#3b68c6" stroke-width="2.0"/>
<polygon points="148.9,334.7 154.9,334.7 151.9,340.7" fill="#3b68c6"/>
<text class="b" transform="translate(10.4 306.0) rotate(-90)" x="0" y="0" text-anchor="middle" font-size="10.4" textLength="116.7" lengthAdjust="spacingAndGlyphs">Classification network loss</text>
<text class="b" x="141.6" y="408.0" text-anchor="middle" font-size="10.4" textLength="54.3" lengthAdjust="spacingAndGlyphs">Train epochs</text>
<text class="b" x="133.3" y="421.8" text-anchor="middle" font-size="11.0" textLength="11.4" lengthAdjust="spacingAndGlyphs">(c)</text>
<rect x="321.0" y="218.7" width="222.3" height="166.6" fill="none" stroke="#6a6a6a" stroke-width="1.0"/>
<polyline points="330.9,377.5 340.7,321.1 351.0,314.6 361.2,308.2 371.2,315.0 381.0,291.0 390.9,284.0 401.5,294.3 411.6,281.5 421.8,264.1 432.7,249.9 442.5,225.9 452.6,227.3 462.6,228.6 472.4,230.0 482.2,227.0 492.5,227.9 502.4,230.0 512.4,227.3 522.6,229.2 532.7,228.1" fill="none" stroke="#e06666" stroke-width="1.2" stroke-linejoin="round"/>
<line x1="318.5" y1="377.6" x2="321.0" y2="377.6" stroke="#6a6a6a" stroke-width="1"/>
<text x="318.0" y="380.4" text-anchor="end" font-size="8.4">0.0</text>
<line x1="318.5" y1="344.9" x2="321.0" y2="344.9" stroke="#6a6a6a" stroke-width="1"/>
<text x="318.0" y="347.7" text-anchor="end" font-size="8.4">0.2</text>
<line x1="318.5" y1="312.2" x2="321.0" y2="312.2" stroke="#6a6a6a" stroke-width="1"/>
<text x="318.0" y="315.0" text-anchor="end" font-size="8.4">0.4</text>
<line x1="318.5" y1="279.6" x2="321.0" y2="279.6" stroke="#6a6a6a" stroke-width="1"/>
<text x="318.0" y="282.4" text-anchor="end" font-size="8.4">0.6</text>
<line x1="318.5" y1="246.4" x2="321.0" y2="246.4" stroke="#6a6a6a" stroke-width="1"/>
<text x="318.0" y="249.2" text-anchor="end" font-size="8.4">0.8</text>
<line x1="318.5" y1="227.9" x2="321.0" y2="227.9" stroke="#6a6a6a" stroke-width="1"/>
<text x="318.0" y="230.7" text-anchor="end" font-size="8.4">0.9</text>
<line x1="330.8" y1="385.3" x2="330.8" y2="387.8" stroke="#6a6a6a" stroke-width="1"/>
<text x="330.8" y="396.3" text-anchor="middle" font-size="8.4">0</text>
<line x1="371.1" y1="385.3" x2="371.1" y2="387.8" stroke="#6a6a6a" stroke-width="1"/>
<text x="371.1" y="396.3" text-anchor="middle" font-size="8.4">4</text>
<line x1="411.4" y1="385.3" x2="411.4" y2="387.8" stroke="#6a6a6a" stroke-width="1"/>
<text x="411.4" y="396.3" text-anchor="middle" font-size="8.4">8</text>
<line x1="451.6" y1="385.3" x2="451.6" y2="387.8" stroke="#6a6a6a" stroke-width="1"/>
<text x="451.6" y="396.3" text-anchor="middle" font-size="8.4">12</text>
<line x1="491.9" y1="385.3" x2="491.9" y2="387.8" stroke="#6a6a6a" stroke-width="1"/>
<text x="491.9" y="396.3" text-anchor="middle" font-size="8.4">16</text>
<line x1="532.2" y1="385.3" x2="532.2" y2="387.8" stroke="#6a6a6a" stroke-width="1"/>
<text x="532.2" y="396.3" text-anchor="middle" font-size="8.4">20</text>
<rect x="325.0" y="223.2" width="73.6" height="15.4" rx="2" fill="#fff" fill-opacity="0.8" stroke="#e2e2e2" stroke-width="0.8"/>
<line x1="328.6" y1="230.1" x2="344.1" y2="230.1" stroke="#e06666" stroke-width="1.3"/>
<text class="b" x="349.2" y="234.1" text-anchor="start" font-size="9.3" textLength="40.3" lengthAdjust="spacingAndGlyphs">PRAN-Net</text>
<text class="b" x="397.1" y="320.6" text-anchor="start" font-size="10.0" textLength="33.6" lengthAdjust="spacingAndGlyphs">Epoch 8</text>
<line x1="413.8" y1="296.5" x2="413.8" y2="309.0" stroke="#3b68c6" stroke-width="2.0"/>
<polygon points="410.8,297.0 416.8,297.0 413.8,291.0" fill="#3b68c6"/>
<text class="b" x="433.5" y="263.3" text-anchor="start" font-size="10.0" textLength="38.8" lengthAdjust="spacingAndGlyphs">Epoch 12</text>
<line x1="445.8" y1="238.2" x2="445.8" y2="250.5" stroke="#3b68c6" stroke-width="2.0"/>
<polygon points="442.8,238.7 448.8,238.7 445.8,232.7" fill="#3b68c6"/>
<text class="b" transform="translate(302.6 298.3) rotate(-90)" x="0" y="0" text-anchor="middle" font-size="10.4" textLength="99.5" lengthAdjust="spacingAndGlyphs">Accuracy of the test set</text>
<text class="b" x="431.6" y="408.2" text-anchor="middle" font-size="10.4" textLength="54.9" lengthAdjust="spacingAndGlyphs">Train epochs</text>
<text class="b" x="429.5" y="421.8" text-anchor="middle" font-size="11.0" textLength="12.9" lengthAdjust="spacingAndGlyphs">(d)</text>
</svg>
</body></html>
